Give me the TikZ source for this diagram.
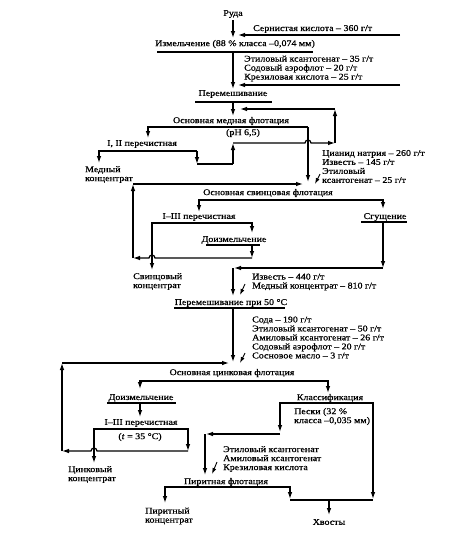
\documentclass[tikz,border=0pt]{standalone}
\usepackage{fontspec}
\setmainfont{Liberation Serif}[FakeStretch=1.13,FakeBold=0.8]
\usetikzlibrary{arrows.meta}
\begin{document}
\begin{tikzpicture}[x=1pt,y=-1pt,
  txt/.style={inner sep=0pt,font=\fontsize{8.8}{9}\selectfont},
  rg/.style={txt,anchor=west,align=left},
  ln/.style={line width=1.2pt},
  flow/.style={ln,-{Latex[length=7pt,width=4.6pt]}},
  split/.style={ln,{Latex[length=7pt,width=4.6pt]}-{Latex[length=7pt,width=4.6pt]}},
  slant/.style={line width=0.9pt,-{Latex[length=6pt,width=4pt]}}]
\useasboundingbox (0,0) rectangle (474,536);
% измельчение и перемешивание
\node[txt] (ore) at (233,14) {Руда};
\draw[flow] (233,20) -- (233,38);
\draw[flow] (400,35) -- (238,35);
\node[rg] (acid) at (253,29) {Сернистая кислота – 360 г/т};
\node[txt] (grind) at (235,44) {Измельчение (88 \% класса –0,074 мм)};
\draw[ln] (157,52) -- (313,52);
\draw[flow] (233,52) -- (233,89);
\node[rg] (reag1) at (244,68.5) {Этиловый ксантогенат – 35 г/т\\Содовый аэрофлот – 20 г/т\\Крезиловая кислота – 25 г/т};
\draw[flow] (400,85) -- (238,85);
\node[txt] (mix1) at (233,94) {Перемешивание};
\draw[ln] (195,102) -- (272,102);
\draw[flow] (233,102) -- (233,116);
% медный цикл
\node[txt] (cuRough) at (231,121) {Основная медная флотация};
\node[txt] (ph) at (243,133) {(pH 6,5)};
\draw[flow] (308,127) -- (148,127) -- (148,138);
\draw[flow] (308,127) -- (308,182);
\node[txt] (cuClean) at (142,144) {I, II перечистная};
\draw[flow] (197,151) -- (99,151) -- (99,163);
\draw[flow] (197,151) -- (197,164);
\draw[ln] (197,164) -- (233,164);
\draw[flow] (233,164) -- (233,143);
\draw[flow] (233,143) -- (305,143) arc[start angle=180,end angle=360,radius=3] -- (335,143);
\draw[flow] (335,143) -- (335,109);
\draw[flow] (335,109) -- (240,109);
\node[rg] (cuConc) at (85,174.5) {Медный\\концентрат};
% свинцовый цикл
\node[rg] (reag2) at (322,166.5) {Цианид натрия – 260 г/т\\Известь – 145 г/т\\Этиловый\\ксантогенат – 25 г/т};
\draw[slant] (320,174) -- (315,184);
\node[txt] (pbRough) at (268,193) {Основная свинцовая флотация};
\draw[split] (199,212) -- (199,200) -- (383,200) -- (383,209);
\node[txt] (pbClean) at (199,217) {I–III перечистная};
\draw[split] (252,233) -- (252,223) -- (152,223) -- (152,270);
\node[txt] (pbRegr) at (234,240) {Доизмельчение};
\draw[ln] (206,245) -- (260,245);
\draw[flow] (252,245) -- (252,258);
\draw[flow] (252,258) -- (155,258) arc[start angle=0,end angle=-180,radius=3] -- (133,258);
\draw[flow] (133,258) -- (133,184);
\draw[flow] (133,184) -- (303,184);
\node[rg] (pbConc) at (133,281.5) {Свинцовый\\концентрат};
\node[txt] (thick) at (385,217) {Сгущение};
\draw[ln] (361,222) -- (407,222);
\draw[flow] (383,222) -- (383,268);
\draw[flow] (383,268) -- (234,268);
\draw[flow] (233,268) -- (233,296);
\node[rg] (reag3) at (252,282) {Известь – 440 г/т\\Медный концентрат – 810 г/т};
\draw[slant] (245,284) -- (240,295);
\node[txt] (mix2) at (231,303) {Перемешивание при 50 °C};
\draw[ln] (174,308) -- (285,308);
\draw[flow] (233,308) -- (233,362);
\node[rg] (reag4) at (252,337.5) {Сода – 190 г/т\\Этиловый ксантогенат – 50 г/т\\Амиловый ксантогенат – 26 г/т\\Содовый аэрофлот – 20 г/т\\Сосновое масло – 3 г/т};
\draw[slant] (245,353) -- (240,363);
% цинковый цикл
\node[txt] (znRough) at (232,373) {Основная цинковая флотация};
\draw[split] (140,389) -- (140,381) -- (328,381) -- (328,393);
\node[txt] (znRegr) at (141,398) {Доизмельчение};
\draw[ln] (107,403) -- (176,403);
\draw[flow] (140,403) -- (140,417);
\node[txt] (znClean) at (141,423) {I–III перечистная};
\node[txt] (temp) at (140,437) {(\textit{t} = 35 °C)};
\draw[split] (188,451) -- (188,429) -- (94,429) -- (94,463);
\draw[flow] (188,451) -- (97,451) arc[start angle=0,end angle=-180,radius=3] -- (62,451);
\draw[flow] (62,451) -- (62,363);
\draw[flow] (62,363) -- (229,363);
\node[rg] (znConc) at (68,474.5) {Цинковый\\концентрат};
% классификация и пирит
\node[txt] (classif) at (330,398) {Классификация};
\draw[split] (280,432) -- (280,403) -- (373,403) -- (373,499);
\node[rg] (sands) at (294,416.5) {Пески (32 \%\\класса –0,035 мм)};
\draw[flow] (280,434) -- (206,434);
\draw[flow] (205,434) -- (205,475);
\node[rg] (reag5) at (223,459) {Этиловый ксантогенат\\Амиловый ксантогенат\\Крезиловая кислота};
\draw[slant] (217,462) -- (212,474);
\node[txt] (pyr) at (226,482) {Пиритная флотация};
\draw[split] (165,503) -- (165,487) -- (290,487) -- (290,499);
\draw[ln] (290,500) -- (373,500);
\draw[flow] (329,500) -- (329,515);
\node[rg] (pyrConc) at (145,516) {Пиритный\\концентрат};
\node[txt] (tails) at (329,522) {Хвосты};
\end{tikzpicture}
\end{document}
